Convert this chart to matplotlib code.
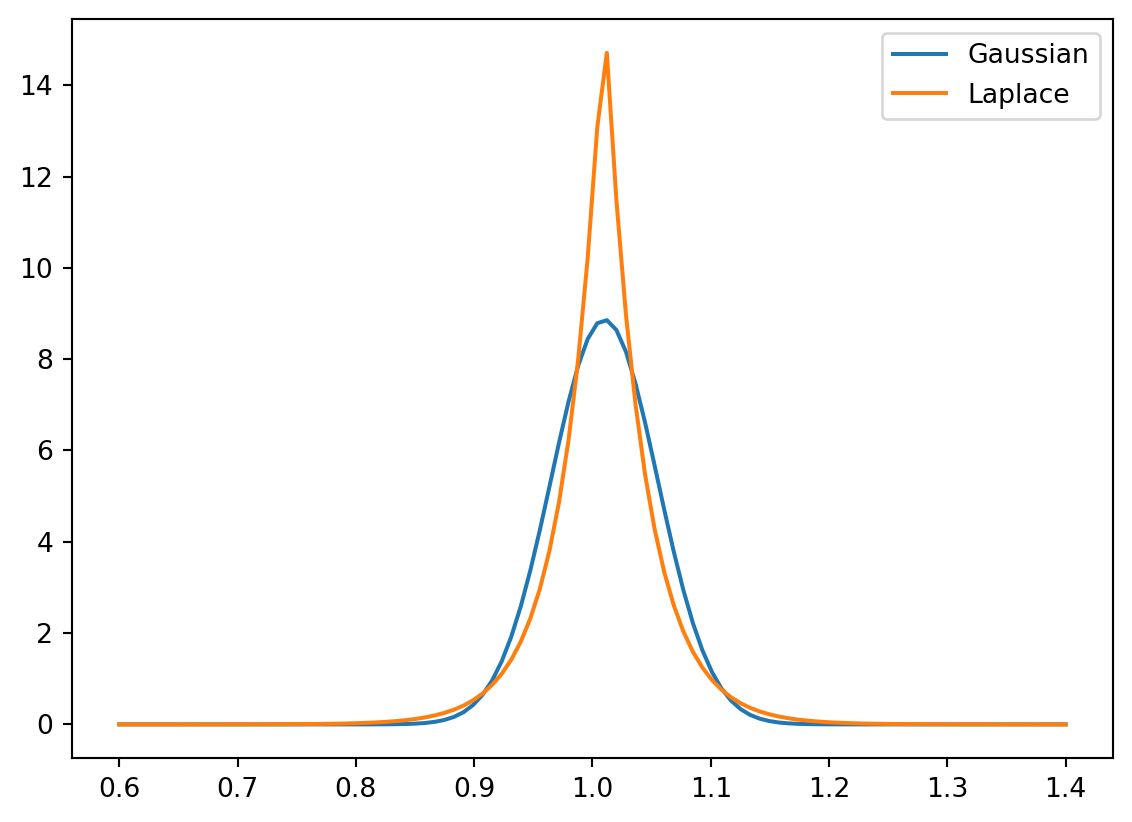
#comparing the gaussian and laplace curves
#values are read off the original plot (100 sample points from 0.6 to 1.4)

import numpy as np
import matplotlib
matplotlib.use('Agg')
import matplotlib.pyplot as plt

DPI = 192

#x grid used for both curves
x = np.linspace(0.6, 1.4, 100)

#gaussian curve values
gaussian = [0.0] * 24 + [
    0.0001, 0.0002, 0.0004, 0.0010, 0.0021, 0.0043, 0.0086, 0.0166, 0.0309, 0.0558,
    0.0970, 0.163, 0.267, 0.423, 0.648, 0.961, 1.380, 1.920, 2.587, 3.376,
    4.263, 5.212, 6.172, 7.077, 7.856, 8.444, 8.788, 8.855, 8.640, 8.163,
    7.467, 6.613, 5.671, 4.709, 3.786, 2.947, 2.222, 1.622, 1.147, 0.785,
    0.520, 0.334, 0.207, 0.125, 0.0728, 0.0411, 0.0224, 0.0118, 0.0061, 0.0030,
    0.0014, 0.0006, 0.0003, 0.0001] + [0.0] * 22

#laplace curve values
laplace = [
    0.0000, 0.0001, 0.0001, 0.0001, 0.0001, 0.0002, 0.0002, 0.0003, 0.0004, 0.0005,
    0.0007, 0.0009, 0.0011, 0.0014, 0.0018, 0.0023, 0.0029, 0.0038, 0.0048, 0.0062,
    0.0079, 0.0101, 0.0130, 0.0166, 0.0212, 0.0272, 0.0348, 0.0446, 0.0571, 0.0731,
    0.0935, 0.1197, 0.1533, 0.1963, 0.2513, 0.3217, 0.4118, 0.5272, 0.6750, 0.8641,
    1.106, 1.416, 1.813, 2.321, 2.972, 3.805, 4.871, 6.236, 7.983, 10.22,
    13.08, 14.71, 11.49, 8.976, 7.011, 5.476, 4.278, 3.341, 2.610, 2.039,
    1.592, 1.244, 0.9716, 0.7589, 0.5928, 0.4630, 0.3617, 0.2825, 0.2207, 0.1724,
    0.1346, 0.1052, 0.0821, 0.0642, 0.0501, 0.0391, 0.0306, 0.0239, 0.0187, 0.0146,
    0.0114, 0.0089, 0.0070, 0.0054, 0.0042, 0.0033, 0.0026, 0.0020, 0.0016, 0.0012,
    0.0010, 0.0007, 0.0006, 0.0005, 0.0004, 0.0003, 0.0002, 0.0002, 0.0001, 0.0001]

#preparing and generating the image
fig = plt.figure(figsize=(1132 / DPI, 822 / DPI), dpi=DPI)
ax = fig.add_axes([0.0636, 0.0779, 0.9196, 0.8986])
ax.plot(x, gaussian, label='Gaussian')
ax.plot(x, laplace, label='Laplace')
ax.legend(loc='upper right')
plt.savefig('out.png', dpi=DPI)
